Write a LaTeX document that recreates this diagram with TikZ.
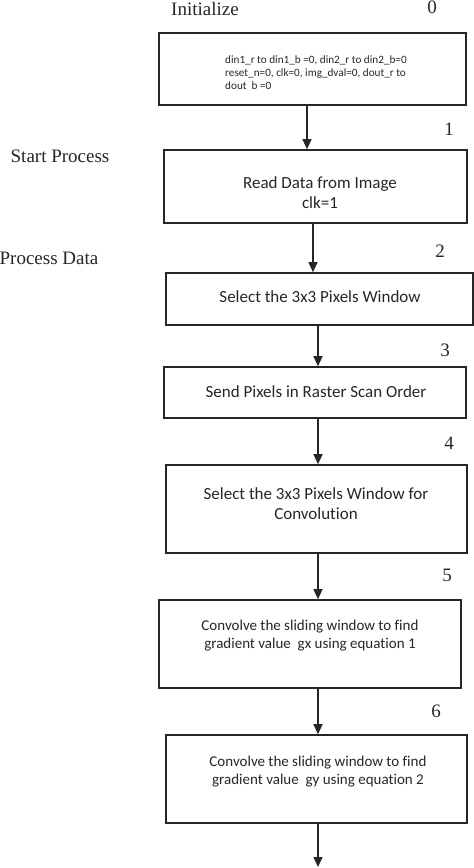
\documentclass[tikz,border=0pt]{standalone}
\usepackage{fontspec}
\setmainfont{Liberation Serif}
\newfontfamily\boxfont[Ligatures=NoCommon]{Carlito}
\usetikzlibrary{arrows.meta,calc}

\begin{document}
\begin{tikzpicture}[x=0.5pt,y=-0.5pt,
	stepbox/.style={draw=black!85, line width=0.8pt, inner sep=0pt},
	boxtext/.style={font=\boxfont\fontsize{8.5}{10}\selectfont, align=center, inner sep=0pt, text=black!85},
	smalltext/.style={font=\boxfont\fontsize{5.6}{6.5}\selectfont, align=left, inner sep=0pt, text=black!85},
	tag/.style={font=\fontsize{9.5}{11}\selectfont, inner sep=0pt, text=black!85},
	flow/.style={draw=black!85, line width=0.6pt, -{Triangle[width=4.5pt,length=5pt]}}]
	\useasboundingbox (0,0) rectangle (474,868);
	% boxes
	\node[stepbox, minimum width=153.5pt, minimum height=36pt] (b0) at (312.5,69) {};
	\node[stepbox, minimum width=151.5pt, minimum height=36.5pt] (b1) at (315.5,186.5) {};
	\node[stepbox, minimum width=153.5pt, minimum height=26pt] (b2) at (319.5,299) {};
	\node[stepbox, minimum width=151pt, minimum height=25.5pt] (b3) at (315,392.5) {};
	\node[stepbox, minimum width=150.5pt, minimum height=44pt] (b4) at (316.5,509) {};
	\node[stepbox, minimum width=151pt, minimum height=44pt] (b5) at (310,644) {};
	\node[stepbox, minimum width=150.5pt, minimum height=44pt] (b6) at (316.5,779) {};
	% texts in the boxes
	\node[smalltext] (t0) at (316,73) {din1\_r to din1\_b =0, din2\_r to din2\_b=0\\
		reset\_n=0, clk=0, img\_dval=0, dout\_r to\\
		dout \ b =0};
	\node[boxtext] (t1) at (320,193) {Read Data from Image\\clk=1};
	\node[boxtext] (t2) at (320,297) {Select the 3x3 Pixels Window};
	\node[boxtext] (t3) at (316,392) {Send Pixels in Raster Scan Order};
	\node[boxtext] (t4) at (316,503.5) {Select the 3x3 Pixels Window for\\Convolution};
	\node[boxtext, font=\boxfont\fontsize{7.5}{9}\selectfont] (t5) at (310,636) {Convolve the sliding window to find\\gradient value \ gx using equation 1};
	\node[boxtext, font=\boxfont\fontsize{7.5}{9}\selectfont] (t6) at (318,771.5) {Convolve the sliding window to find\\gradient value \ gy using equation 2};
	% labels
	\node[tag] (init) at (205,9) {Initialize};
	\node[tag] (start) at (60,156) {Start Process};
	\node[tag] (proc) at (49,258) {Process Data};
	\node[tag] (n0) at (432,7) {0};
	\node[tag] (n1) at (449,129) {1};
	\node[tag] (n2) at (440,251) {2};
	\node[tag] (n3) at (445,350) {3};
	\node[tag] (n4) at (449,443) {4};
	\node[tag] (n5) at (447,575) {5};
	\node[tag] (n6) at (436,711) {6};
	\coordinate (end) at (318,867);
	% arrows
	\draw[flow] ([xshift=-2.75pt]b0.south) -- ([xshift=-4.25pt]b1.north);
	\draw[flow] ([xshift=-1.25pt]b1.south) -- ([xshift=-3.25pt]b2.north);
	\draw[flow] ([xshift=-0.75pt]b2.south) -- ([xshift=1.5pt]b3.north);
	\draw[flow] ([xshift=1.5pt]b3.south) -- ([xshift=0.75pt]b4.north);
	\draw[flow] ([xshift=0.75pt]b4.south) -- ([xshift=4pt]b5.north);
	\draw[flow] ([xshift=4pt]b5.south) -- ([xshift=0.75pt]b6.north);
	\draw[flow] ([xshift=0.75pt]b6.south) -- (end);
\end{tikzpicture}
\end{document}
